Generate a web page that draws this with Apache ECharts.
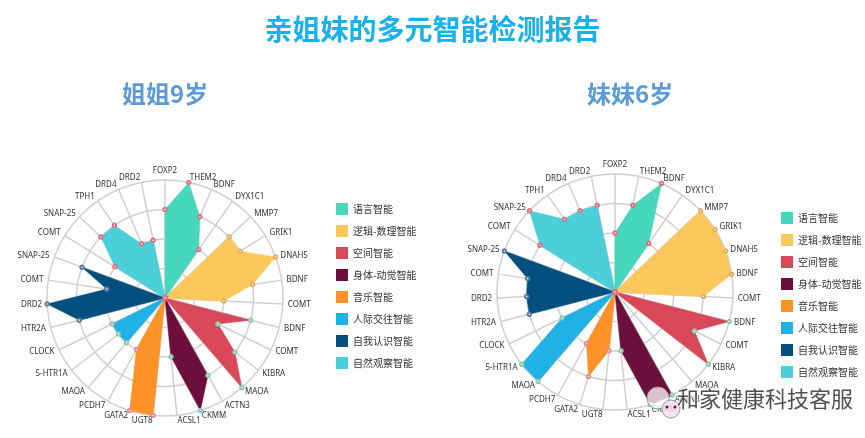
<!DOCTYPE html>
<html>
<head>
<meta charset="utf-8">
<title>亲姐妹的多元智能检测报告</title>
<script src="https://cdn.jsdelivr.net/npm/echarts@6/dist/echarts.min.js"></script>
</head>
<body style="margin:0;background:#fff">
<div id="main" style="width:865px;height:438px;"></div>
<script>
// gene names, clockwise from the top
var genes = ['FOXP2', 'THEM2', 'BDNF', 'DYX1C1', 'MMP7', 'GRIK1', 'DNAH5', 'BDNF', 'COMT', 'BDNF', 'COMT',
    'KIBRA', 'MAOA', 'ACTN3', 'CKMM', 'ACSL1', 'UGT8', 'GATA2', 'PCDH7', 'MAOA', '5-HTR1A', 'CLOCK',
    'HTR2A', 'DRD2', 'COMT', 'SNAP-25', 'COMT', 'SNAP-25', 'TPH1', 'DRD4', 'DRD2'];
// which intelligence each gene belongs to
var geneGroup = [0, 0, 0, 0, 1, 1, 1, 1, 1, 2, 2, 2, 2, 3, 3, 3, 4, 4, 4, 5, 5, 5, 6, 6, 6, 6, 7, 7, 7, 7, 7];
var intelNames = ['语言智能', '逻辑-数理智能', '空间智能', '身体-动觉智能', '音乐智能', '人际交往智能', '自我认识智能', '自然观察智能'];
var intelColors = ['#47d7bd', '#fdc85b', '#d94859', '#6d0f3d', '#fd9228', '#20b1e6', '#03507e', '#4bcfd9'];
var dotColors = ['#e07080', '#e0b060', '#90c8a8', '#90c8a8', '#e09090', '#90c8a8', '#5a7aa8', '#e07080'];
// scores 0-4, same order as genes
var elderScores = [3, 4, 3, 2, 3, 3, 4, 3, 2, 3, 2, 3, 4, 3, 4, 2, 4, 4, 2, 2, 2, 2, 3, 4, 2, 3, 2, 3, 3, 2, 2];
var youngerScores = [2, 3, 4, 2, 4, 4, 4, 4, 3, 4, 3, 4, 0, 4, 4, 2, 2, 3, 2, 4, 4, 2, 3, 3, 3, 4, 3, 4, 3, 3, 3];

var myChart = echarts.init(document.getElementById('main'));

// echarts lays radar indicators counter-clockwise, so flip the tail
var order = [0];
for (var i = genes.length - 1; i > 0; i--) order.push(i);

function makeRadar(center) {
    return {
        center: center,
        radius: 118,
        shape: 'circle',
        splitNumber: 4,
        startAngle: 90,
        nameGap: 5,
        indicator: order.map(function (i) { return { name: genes[i], min: 0, max: 4 }; }),
        axisName: { color: '#333', fontSize: 8, fontFamily: 'Noto Sans' },
        splitLine: { lineStyle: { color: '#d0d0d0', width: 1.5 } },
        splitArea: { show: false },
        axisLine: { lineStyle: { color: '#d0d0d0', width: 1.5 } }
    };
}

var series = [];
[elderScores, youngerScores].forEach(function (scores, r) {
    for (var k = 0; k < intelNames.length; k++) {
        series.push({
            type: 'radar',
            radarIndex: r,
            name: intelNames[k],
            symbol: 'emptyCircle',
            symbolSize: 3.5,
            silent: true,
            itemStyle: { color: dotColors[k], borderWidth: 1 },
            lineStyle: { color: intelColors[k], width: 0.5 },
            areaStyle: { color: intelColors[k], opacity: 1 },
            data: [{ value: order.map(function (i) { return geneGroup[i] === k ? scores[i] : 0; }) }]
        });
    }
});

function makeLegend(left, top) {
    return {
        orient: 'vertical',
        left: left,
        top: top,
        icon: 'rect',
        itemWidth: 12,
        itemHeight: 12,
        itemGap: 10,
        selectedMode: false,
        textStyle: { color: '#333', fontSize: 10, fontFamily: 'Noto Sans CJK SC' },
        data: intelNames.map(function (n, k) { return { name: n, itemStyle: { color: intelColors[k] } }; })
    };
}

option = {
    backgroundColor: '#fff',
    title: [
        { text: '亲姐妹的多元智能检测报告', left: 'center', top: 15, padding: 0,
          textStyle: { color: '#1ab1ea', fontSize: 28, fontWeight: 'bold', fontFamily: 'Noto Sans CJK SC' } },
        { text: '姐姐9岁', left: 122, top: 82, padding: 0,
          textStyle: { color: '#5b9bd5', fontSize: 24, fontWeight: 'bold', fontFamily: 'Noto Sans CJK SC' } },
        { text: '妹妹6岁', left: 587, top: 82, padding: 0,
          textStyle: { color: '#5b9bd5', fontSize: 24, fontWeight: 'bold', fontFamily: 'Noto Sans CJK SC' } }
    ],
    legend: [makeLegend(331, 198), makeLegend(776, 207)],
    radar: [makeRadar([165, 298]), makeRadar([615, 292])],
    series: series,
    graphic: [
        { type: 'circle', z: 100, shape: { cx: 658, cy: 398, r: 11 },
          style: { fill: 'rgba(255,255,255,0.75)', stroke: '#999', lineWidth: 1 } },
        { type: 'circle', z: 101, shape: { cx: 671, cy: 409, r: 9 },
          style: { fill: 'rgba(245,225,235,0.85)', stroke: '#999', lineWidth: 1 } },
        { type: 'circle', z: 102, shape: { cx: 667, cy: 407, r: 1.5 }, style: { fill: '#6d0f3d' } },
        { type: 'circle', z: 102, shape: { cx: 675, cy: 407, r: 1.5 }, style: { fill: '#6d0f3d' } },
        { type: 'text', z: 102, left: 676, top: 387,
          style: { text: '和家健康科技客服', fill: '#505050', fontSize: 22, fontFamily: 'Noto Sans CJK SC',
                   stroke: 'rgba(255,255,255,0.85)', lineWidth: 2 } }
    ]
};

myChart.setOption(option);
</script>
</body>
</html>
